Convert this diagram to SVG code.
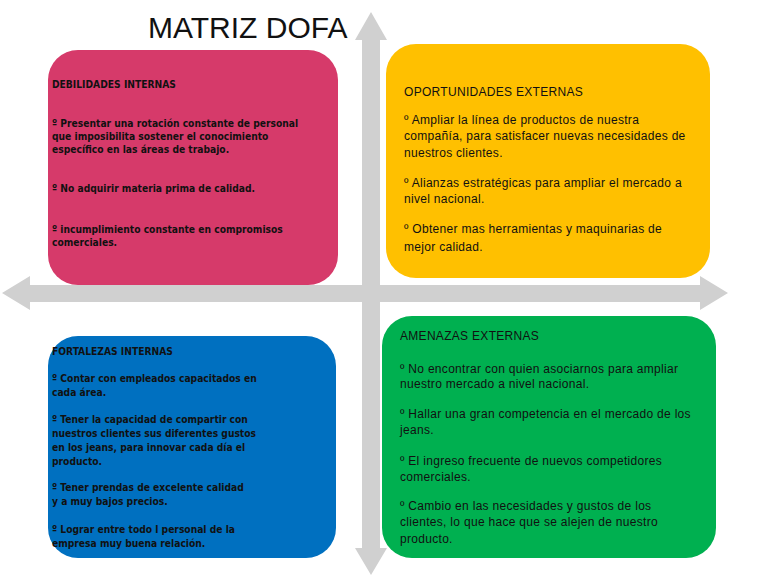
<svg xmlns="http://www.w3.org/2000/svg" width="768" height="576" viewBox="0 0 768 576">
<style>
.l{font-family:"DejaVu Sans Condensed","DejaVu Sans",sans-serif;font-weight:bold;font-size:10.2px;fill:#111}
.r{font-family:"Liberation Sans",Arial,sans-serif;font-size:12px;letter-spacing:0.3px;fill:#111}
.ar{fill:#d0d0d0}
</style>
<rect width="768" height="576" fill="#fff"/>
<g id="connectors">
<polygon class="ar" points="371,12 387,40 380,40 380,548 387,548 371,575 355,548 362,548 362,40 355,40"/>
<polygon class="ar" points="2,293 30,276 30,285 700,285 700,276 728,293 700,310 700,302 30,302 30,310"/>
</g>
<text x="148" y="38" font-family="Liberation Sans,Arial,sans-serif" font-size="30" fill="#111">MATRIZ DOFA</text>
<g id="debilidades">
<rect x="48" y="50" width="290" height="235" rx="30" fill="#d63a6a"/>
<text class="l"><tspan x="52" y="88">DEBILIDADES INTERNAS</tspan>
<tspan x="52" y="127">º Presentar una rotación constante de personal</tspan>
<tspan x="52" y="140">que imposibilita sostener el conocimiento</tspan>
<tspan x="52" y="153">específico en las áreas de trabajo.</tspan>
<tspan x="52" y="192">º No adquirir materia prima de calidad.</tspan>
<tspan x="52" y="233">º incumplimiento constante en compromisos</tspan>
<tspan x="52" y="246">comerciales.</tspan></text>
</g>
<g id="oportunidades">
<rect x="386" y="44" width="324" height="234" rx="30" fill="#ffc000"/>
<text class="r"><tspan x="404" y="96">OPORTUNIDADES EXTERNAS</tspan>
<tspan x="404" y="124">º Ampliar la línea de productos de nuestra</tspan>
<tspan x="404" y="140">compañía, para satisfacer nuevas necesidades de</tspan>
<tspan x="404" y="157">nuestros clientes.</tspan>
<tspan x="404" y="187">º Alianzas estratégicas para ampliar el mercado a</tspan>
<tspan x="404" y="203">nivel nacional.</tspan>
<tspan x="404" y="233">º Obtener mas herramientas y maquinarias de</tspan>
<tspan x="404" y="251">mejor calidad.</tspan></text>
</g>
<g id="fortalezas">
<rect x="48" y="336" width="288" height="222" rx="30" fill="#0070c0"/>
<text class="l"><tspan x="52" y="355">FORTALEZAS INTERNAS</tspan>
<tspan x="52" y="382">º Contar con empleados capacitados en</tspan>
<tspan x="52" y="396">cada área.</tspan>
<tspan x="52" y="423">º Tener la capacidad de compartir con</tspan>
<tspan x="52" y="437">nuestros clientes sus diferentes gustos</tspan>
<tspan x="52" y="451">en los jeans,  para innovar cada día el</tspan>
<tspan x="52" y="465">producto.</tspan>
<tspan x="52" y="491">º Tener prendas de excelente calidad</tspan>
<tspan x="52" y="505">y a muy bajos precios.</tspan>
<tspan x="52" y="533">º Lograr entre todo l personal de la</tspan>
<tspan x="52" y="547">empresa muy buena relación.</tspan></text>
</g>
<g id="amenazas">
<rect x="382" y="316" width="334" height="242" rx="30" fill="#00b050"/>
<text class="r"><tspan x="400" y="340">AMENAZAS EXTERNAS</tspan>
<tspan x="400" y="373">º No encontrar con quien asociarnos para ampliar</tspan>
<tspan x="400" y="388">nuestro mercado a nivel nacional.</tspan>
<tspan x="400" y="418">º Hallar una gran competencia en el mercado de los</tspan>
<tspan x="400" y="434">jeans.</tspan>
<tspan x="400" y="465">º El ingreso frecuente de nuevos competidores</tspan>
<tspan x="400" y="481">comerciales.</tspan>
<tspan x="400" y="510">º Cambio en las necesidades y gustos de los</tspan>
<tspan x="400" y="526">clientes, lo que hace que se alejen de nuestro</tspan>
<tspan x="400" y="543">producto.</tspan></text>
</g>
</svg>
